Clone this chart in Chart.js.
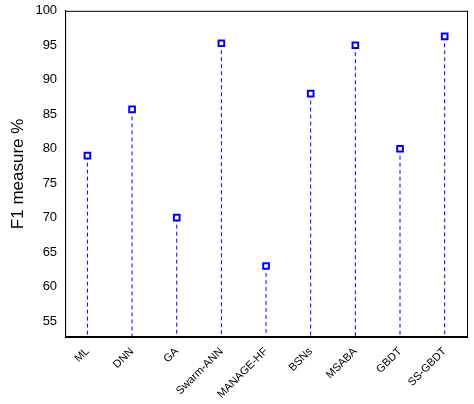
<!DOCTYPE html>
<html>
<head>
<script src="https://cdn.jsdelivr.net/npm/chart.js@4"></script>
<style>
  body { margin: 0; background: #fff; }
  #wrap { width: 474px; height: 404px; }
</style>
</head>
<body>
<div id="wrap"><canvas id="myChart"></canvas></div>
<script>
const categories = ["ML", "DNN", "GA", "Swarm-ANN", "MANAGE-HF", "BSNs", "MSABA", "GBDT", "SS-GBDT"];
const f1Values = [79, 85.7, 70, 95.3, 63, 88, 95, 80, 96.3];
const yTicks = [55, 60, 65, 70, 75, 80, 85, 90, 95, 100];

// dashed drop lines from each point down to the x axis, plus the box frame
const dropLines = {
    id: "dropLines",
    beforeDatasetsDraw(chart) {
        const ctx = chart.ctx;
        const x = chart.scales.x;
        const y = chart.scales.y;
        ctx.save();
        ctx.strokeStyle = "#0000ff";
        ctx.lineWidth = 1;
        ctx.setLineDash([4, 3]);
        f1Values.forEach((v, i) => {
            const px = x.getPixelForValue(i);
            ctx.beginPath();
            ctx.moveTo(px, y.getPixelForValue(v));
            ctx.lineTo(px, y.bottom);
            ctx.stroke();
        });
        ctx.setLineDash([]);
        ctx.strokeStyle = "#000";
        const a = chart.chartArea;
        ctx.strokeRect(a.left + 0.5, a.top + 0.5, a.right - a.left, a.bottom - a.top);
        ctx.restore();
    },
};

new Chart(document.getElementById("myChart"), {
    type: "line",
    data: {
        labels: categories,
        datasets: [
            {
                data: f1Values,
                showLine: false,
                pointStyle: "rect",
                pointRadius: 4,
                pointBorderWidth: 2,
                pointBorderColor: "#0000ff",
                pointBackgroundColor: "#ffffff",
            },
        ],
    },
    options: {
        responsive: true,
        maintainAspectRatio: false,
        animation: false,
        layout: { padding: { top: 6, right: 7, left: 4 } },
        plugins: { legend: { display: false }, tooltip: { enabled: false } },
        scales: {
            x: {
                offset: true,
                grid: { display: false, drawTicks: true, tickLength: 5, color: "#000" },
                border: { color: "#000", width: 1 },
                ticks: {
                    color: "#000",
                    font: { family: "Liberation Sans", size: 11 },
                    maxRotation: 45,
                    minRotation: 45,
                },
            },
            y: {
                min: 52.7,
                max: 100,
                afterBuildTicks(axis) {
                    axis.ticks = yTicks.map((v) => ({ value: v }));
                },
                grid: { display: false, drawTicks: true, tickLength: 5, color: "#000" },
                border: { color: "#000", width: 1 },
                ticks: {
                    color: "#000",
                    font: { family: "Liberation Sans", size: 13 },
                },
                title: {
                    display: true,
                    text: "F1 measure %",
                    color: "#000",
                    font: { family: "Liberation Sans", size: 17 },
                },
            },
        },
    },
    plugins: [dropLines],
});
</script>
</body>
</html>
